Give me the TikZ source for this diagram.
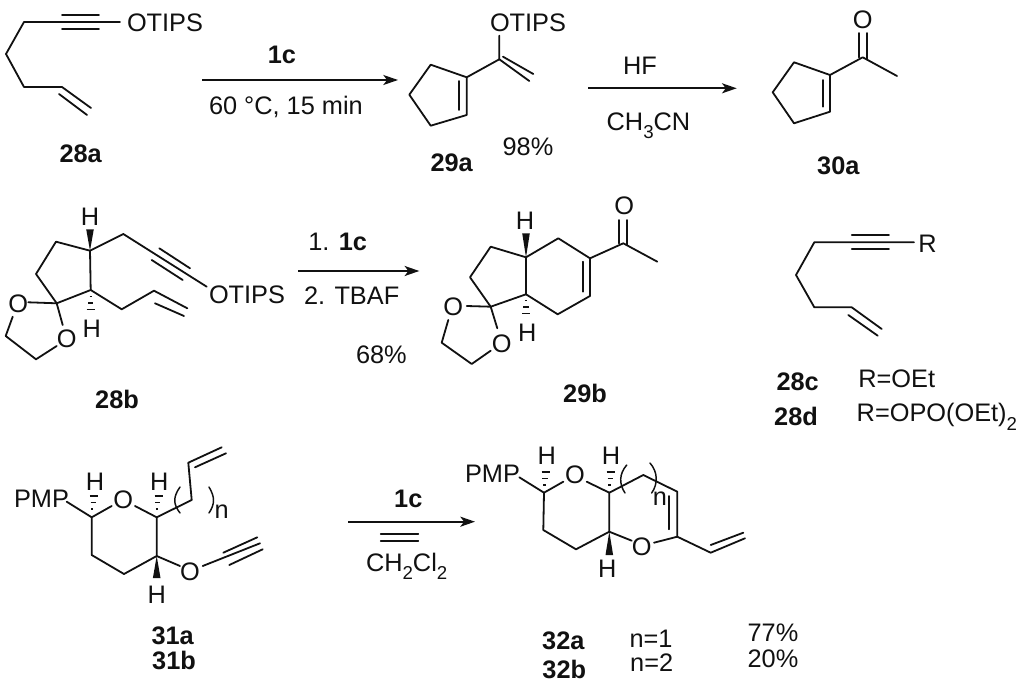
\documentclass[tikz,border=0pt]{standalone}
\usepackage{fontspec}
\setmainfont{Liberation Sans}
\usetikzlibrary{arrows.meta,calc}
\newcommand{\subs}[1]{\raisebox{-0.33em}{\fontsize{14}{16}\selectfont #1}}
\newcommand{\hashbond}[4]{\foreach \tt/\ww in {.2/1.2,.5/2.6,.8/4}{\draw[thin line] ($(#1,#2)!\tt!(#3,#4)$) +(-\ww,0) -- +(\ww,0);}}
\newcommand{\wedgebond}[4]{\fill[ink] (#1,#2) -- (#3-3.8,#4) -- (#3+3.8,#4) -- cycle;}
\definecolor{ink}{HTML}{111111}
\tikzset{
  x=0.75pt,y=-0.75pt,
  bond/.style={draw=ink,line width=1.35pt,line cap=round,line join=round},
  thin line/.style={draw=ink,line width=1.2pt},
  paren/.style={draw=ink,line width=1.1pt,line cap=round},
  reaction/.style={draw=ink,line width=1.4pt,-{Stealth[length=11pt,width=7.5pt,inset=2.8pt]}},
  txt/.style={inner sep=0pt,outer sep=0pt,anchor=base,yshift=-6.6pt,text=ink,font=\fontsize{19}{22}\selectfont},
  txtw/.style={txt,anchor=base west},
  lbl/.style={txt,font=\fontsize{19}{22}\selectfont\bfseries},
}
\begin{document}
\begin{tikzpicture}
\useasboundingbox[fill=white] (0,0) rectangle (1024,684);

% ---------- 28a
\draw[bond] (120,22) -- (24,22) -- (6,54) -- (24,87) -- (62,87) -- (91,108);
\draw[bond] (62,15) -- (99,15) (62,29) -- (99,29) (59,94) -- (87,115);
\node[txtw] (t28aR) at (127,22.5) {OTIPS};
\node[lbl] (l28a) at (80.7,154) {28a};

% ---------- arrow 1
\coordinate (a1s) at (202,80); \coordinate (a1e) at (398,80);
\draw[reaction] (a1s) -- (a1e);
\node[lbl] (r1a) at (282,55) {1c};
\node[txtw] (r1b) at (209,106) {60 °C, 15 min};

% ---------- 29a
\draw[bond] (466.7,77.3) -- (430.7,64.7) -- (409.3,94.7) -- (430.7,125.7) -- (466.7,115) -- cycle;
\draw[bond] (459.3,81) -- (459.3,110);
\draw[bond] (466.7,77.3) -- (499.3,59.3) -- (499.3,35.7);
\draw[bond] (499.3,59.3) -- (529.3,81) (503,56.7) -- (533.3,74);
\node[txtw] (t29aR) at (490,23) {OTIPS};
\node[lbl] (l29a) at (451.7,162.7) {29a};
\node[txt] (y29a) at (528,146.7) {98\%};

% ---------- arrow 2
\coordinate (a2s) at (588.3,88.3); \coordinate (a2e) at (736.7,88.3);
\draw[reaction] (a2s) -- (a2e);
\node[txt] (r2a) at (640,66) {HF};
\node[txtw] (r2b) at (606.7,121.7) {CH\subs{3}CN};

% ---------- 30a
\draw[bond] (830,75) -- (794,62.3) -- (772.7,92.3) -- (794,123.3) -- (830,111.7) -- cycle;
\draw[bond] (823.3,80) -- (823.3,106.7);
\draw[bond] (830,75) -- (862.7,57.3) -- (897,76);
\draw[bond] (859.3,57.5) -- (859.3,33) (866.7,59) -- (866.7,33);
\node[txt] (o30a) at (862.7,20) {O};
\node[lbl] (l30a) at (838.3,165.7) {30a};

% ---------- 28b
\wedgebond{90}{250.7}{90}{229.3}
\node[txt] (h28b1) at (90,216.7) {H};
\draw[bond] (90,250.7) -- (56,241.7) -- (36,274) -- (56.7,303.3) -- (90.7,290) -- cycle;
\draw[bond] (90,250.7) -- (123.3,234) -- (206.7,286.7);
\draw[bond] (159.3,248.3) -- (190,268.3) (151.7,260) -- (182.7,280);
\node[txtw] (t28bR) at (209,295) {OTIPS};
\draw[bond] (90.7,290) -- (121.7,309.3) -- (154,290.7) -- (187.3,308.3);
\draw[bond] (155,303.3) -- (184,316);
\hashbond{90.7}{292}{90.7}{314}
\node[txt] (h28b2) at (91.7,328.3) {H};
\node[txt] (o28b1) at (18.3,303.3) {O};
\node[txt] (o28b2) at (66.7,338.3) {O};
\draw[bond] (56.7,303.3) -- (28.3,302.3);
\draw[bond] (56.7,303.3) -- (62.7,325);
\draw[bond] (12.7,316.7) -- (5.7,336) -- (36,359.3) -- (56.7,346);
\node[lbl] (l28b) at (117,400) {28b};

% ---------- arrow 3
\coordinate (a3s) at (298.3,271); \coordinate (a3e) at (419.3,271);
\draw[reaction] (a3s) -- (a3e);
\node[txtw] (r3a) at (308.3,241.7) {1. \textbf{1c}};
\node[txtw] (r3b) at (304,296) {2. TBAF};
\node[txtw] (y29b) at (356,355) {68\%};

% ---------- 29b
\wedgebond{526}{257.3}{526}{233.3}
\node[txt] (h29b1) at (525,220.7) {H};
\draw[bond] (526,257.3) -- (490.7,246.7) -- (470,277.3) -- (490.7,306.7) -- (526,294.3) -- cycle;
\draw[bond] (526,257.3) -- (558.3,238.3) -- (590,258.3) -- (590,296) -- (557.7,314.3) -- (526,294.3);
\draw[bond] (583.3,261.7) -- (583.3,291.7);
\draw[bond] (590,258.3) -- (623.3,243.3) -- (657.3,261.7);
\draw[bond] (619.3,243.5) -- (619.3,220) (627.3,245) -- (627.3,220);
\node[txt] (o29b) at (624.3,206) {O};
\hashbond{526}{296}{526}{318}
\node[txt] (h29b2) at (527.3,332.7) {H};
\node[txt] (o29b1) at (453.3,306.7) {O};
\node[txt] (o29b2) at (501.7,343.3) {O};
\draw[bond] (490.7,306.7) -- (466.7,306);
\draw[bond] (490.7,306.7) -- (497.3,328.3);
\draw[bond] (448.3,320) -- (441.7,342.7) -- (471.7,364) -- (490.7,350.7);
\node[lbl] (l29b) at (585,393.3) {29b};

% ---------- 28c/d
\draw[bond] (914,242.3) -- (814.3,242.3) -- (796,275) -- (814.3,307.3) -- (851.7,307.3) -- (881.7,329);
\draw[bond] (851.7,235) -- (889,235) (851.7,249) -- (889,249) (848.3,315) -- (877.7,335.7);
\node[txtw] (t28cR) at (918.3,243.3) {R};
\node[lbl] (l28c) at (797.7,381.7) {28c};
\node[lbl] (l28d) at (796,416.7) {28d};
\node[txtw] (v28c) at (858.3,378.3) {R=OEt};
\node[txtw] (v28d) at (856.7,413) {R=OPO(OEt)\subs{2}};

% ---------- 31
\node[txtw] (p31) at (14,498.3) {PMP};
\draw[bond] (66.7,501.7) -- (91.7,517.3) -- (111.7,506);
\node[txt] (o31) at (123.3,500) {O};
\draw[bond] (135,506) -- (156.7,517.3) -- (156.7,556) -- (124,574) -- (91.7,555) -- (91.7,517.3);
\hashbond{91.7}{513}{94.5}{492}
\node[txt] (h311) at (95,481.7) {H};
\hashbond{156.7}{513}{159}{492}
\node[txt] (h312) at (159.3,481.7) {H};
\draw[bond] (156.7,517.3) -- (191.7,500) -- (188.3,462.7) -- (221.7,447.3);
\draw[bond] (195,467.3) -- (226,453.3);
\draw[paren] (180,487) .. controls (173,497) and (173,504) .. (180,513);
\draw[paren] (209,487) .. controls (215,497) and (215,504) .. (209,513);
\node[txt] (n31) at (221.7,509.3) {n};
\wedgebond{156.7}{556}{156.7}{578}
\node[txt] (h313) at (156.7,595) {H};
\draw[bond] (156.7,556) -- (180,566);
\node[txt] (o312) at (190,571.7) {O};
\draw[bond] (202.7,566) -- (260,543.3);
\draw[bond] (223.3,552.7) -- (257.3,537.3) (229.3,565) -- (262.7,549.3);
\node[lbl] (l31a) at (172.7,636) {31a};
\node[lbl] (l31b) at (174,660.7) {31b};

% ---------- arrow 4
\coordinate (a4s) at (348.3,521.7); \coordinate (a4e) at (475,521.7);
\draw[reaction] (a4s) -- (a4e);
\node[lbl] (r4a) at (408.3,499) {1c};
\draw[bond] (380.7,534) -- (418.3,534) (380.7,541) -- (418.3,541);
\node[txtw] (r4b) at (366,562.7) {CH\subs{2}Cl\subs{2}};

% ---------- 32
\node[txtw] (p32) at (465,473.3) {PMP};
\draw[bond] (519.3,477.3) -- (544,492.7) -- (563.3,481.7);
\node[txt] (o321) at (575,475) {O};
\draw[bond] (586.7,481.7) -- (609.3,492.7) -- (609.3,531.7) -- (576,549.3) -- (543.3,530) -- (544,492.7);
\hashbond{544}{489}{546}{468}
\node[txt] (h321) at (546.7,456) {H};
\hashbond{609.3}{489}{611}{468}
\node[txt] (h322) at (611,456) {H};
\draw[bond] (609.3,492.7) -- (643.3,475) -- (677.3,491.7) -- (677.3,536.7);
\draw[bond] (669.3,496) -- (669.3,529.3);
\draw[paren] (626.7,465) .. controls (619,474) and (619,484) .. (625,493);
\draw[paren] (650,463) .. controls (658,472) and (658,484) .. (651.7,493);
\node[txt] (n32) at (660,496.7) {n};
\wedgebond{609.3}{531.7}{609.3}{555}
\node[txt] (h323) at (607.3,568.3) {H};
\draw[bond] (609.3,531.7) -- (631.7,540.7);
\node[txt] (o322) at (641.7,546.7) {O};
\draw[bond] (654,542.7) -- (677.3,536.7) -- (710.7,552.7) -- (745,538.3);
\draw[bond] (710.7,545) -- (743.3,532.7);
\node[lbl] (l32a) at (563.3,640.7) {32a};
\node[lbl] (l32b) at (564.3,670) {32b};
\node[txt] (n321) at (651,638.3) {n=1};
\node[txt] (n322) at (651.7,662.7) {n=2};
\node[txt] (y32a) at (773,633) {77\%};
\node[txt] (y32b) at (773,659) {20\%};
\end{tikzpicture}
\end{document}
